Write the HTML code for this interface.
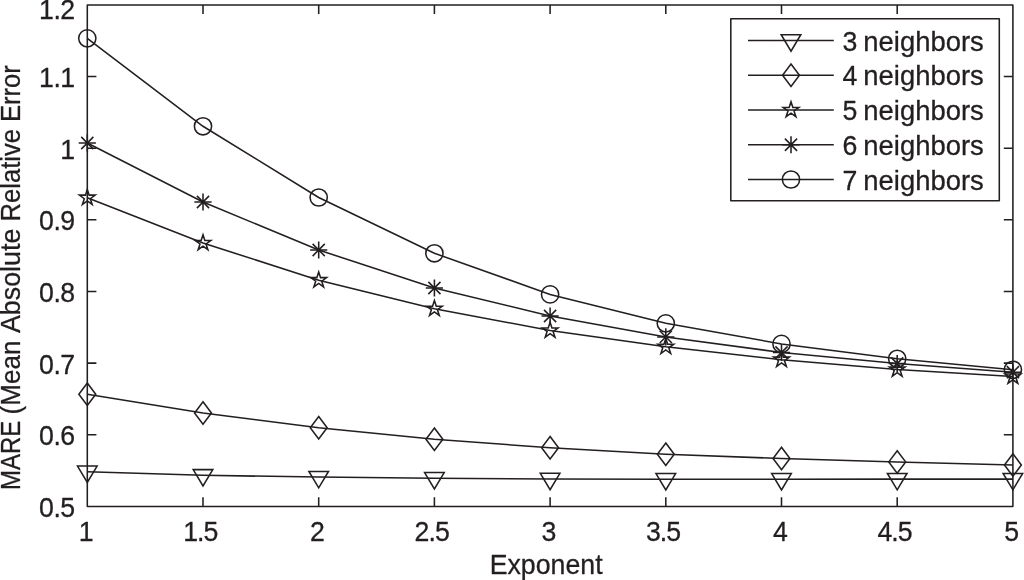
<!DOCTYPE html>
<html lang="en"><head><meta charset="utf-8"><title>MARE vs Exponent</title>
<style>html,body{margin:0;padding:0;background:#fff;overflow:hidden}svg{display:block}text{font-family:"Liberation Sans",sans-serif;font-size:27.8px;fill:#231f20;stroke:#231f20;stroke-width:0.3px;stroke-linejoin:round}</style></head><body>
<svg width="1024" height="580" viewBox="0 0 1024 580">
<rect width="1024" height="580" fill="#fff"/>
<g fill="none" stroke="#231f20" stroke-width="1.55" stroke-miterlimit="10">
<rect x="87.3" y="4.9" width="925.6" height="501.5" stroke-linejoin="round"/>
<path d="M203 506.4v-9.1M203 4.9v9.1M318.7 506.4v-9.1M318.7 4.9v9.1M434.4 506.4v-9.1M434.4 4.9v9.1M550.1 506.4v-9.1M550.1 4.9v9.1M665.8 506.4v-9.1M665.8 4.9v9.1M781.5 506.4v-9.1M781.5 4.9v9.1M897.2 506.4v-9.1M897.2 4.9v9.1M87.3 76.54h9.1M1012.9 76.54h-9.1M87.3 148.19h9.1M1012.9 148.19h-9.1M87.3 219.83h9.1M1012.9 219.83h-9.1M87.3 291.47h9.1M1012.9 291.47h-9.1M87.3 363.11h9.1M1012.9 363.11h-9.1M87.3 434.76h9.1M1012.9 434.76h-9.1"/>
<polyline points="87.3,471.75 203,475.3 318.7,477.1 434.4,478.25 550.1,479 665.8,479.25 781.5,479.25 897.2,479.1 1012.9,479.1"/>
<polyline points="87.3,394.25 203,413 318.7,427.75 434.4,439.25 550.1,447.75 665.8,454.25 781.5,458.5 897.2,461.9 1012.9,465"/>
<polyline points="87.3,197.7 203,243 318.7,280.2 434.4,308.75 550.1,330.5 665.8,346.8 781.5,359.7 897.2,369.5 1012.9,376.6"/>
<polyline points="87.3,143 203,202 318.7,250 434.4,288 550.1,316 665.8,336.9 781.5,352.5 897.2,363.5 1012.9,372.2"/>
<polyline points="87.3,38.3 203,126.25 318.7,197.5 434.4,253.25 550.1,294.4 665.8,323.3 781.5,343.9 897.2,358.75 1012.9,369.75"/>
<polygon points="77.5,466.05 97.1,466.05 87.3,482.45"/>
<polygon points="193.2,469.6 212.8,469.6 203,486"/>
<polygon points="308.9,471.4 328.5,471.4 318.7,487.8"/>
<polygon points="424.6,472.55 444.2,472.55 434.4,488.95"/>
<polygon points="540.3,473.3 559.9,473.3 550.1,489.7"/>
<polygon points="656,473.55 675.6,473.55 665.8,489.95"/>
<polygon points="771.7,473.55 791.3,473.55 781.5,489.95"/>
<polygon points="887.4,473.4 907,473.4 897.2,489.8"/>
<polygon points="1003.1,473.4 1022.7,473.4 1012.9,489.8"/>
<polygon points="87.3,383.05 95.75,394.25 87.3,405.45 78.85,394.25"/>
<polygon points="203,401.8 211.45,413 203,424.2 194.55,413"/>
<polygon points="318.7,416.55 327.15,427.75 318.7,438.95 310.25,427.75"/>
<polygon points="434.4,428.05 442.85,439.25 434.4,450.45 425.95,439.25"/>
<polygon points="550.1,436.55 558.55,447.75 550.1,458.95 541.65,447.75"/>
<polygon points="665.8,443.05 674.25,454.25 665.8,465.45 657.35,454.25"/>
<polygon points="781.5,447.3 789.95,458.5 781.5,469.7 773.05,458.5"/>
<polygon points="897.2,450.7 905.65,461.9 897.2,473.1 888.75,461.9"/>
<polygon points="1012.9,453.8 1021.35,465 1012.9,476.2 1004.45,465"/>
<polygon points="87.3,189.4 89.16,195.13 95.19,195.14 90.32,198.68 92.18,204.41 87.3,200.87 82.42,204.41 84.28,198.68 79.41,195.14 85.44,195.13"/>
<polygon points="203,234.7 204.86,240.43 210.89,240.44 206.02,243.98 207.88,249.71 203,246.17 198.12,249.71 199.98,243.98 195.11,240.44 201.14,240.43"/>
<polygon points="318.7,271.9 320.56,277.63 326.59,277.64 321.72,281.18 323.58,286.91 318.7,283.37 313.82,286.91 315.68,281.18 310.81,277.64 316.84,277.63"/>
<polygon points="434.4,300.45 436.26,306.18 442.29,306.19 437.42,309.73 439.28,315.46 434.4,311.92 429.52,315.46 431.38,309.73 426.51,306.19 432.54,306.18"/>
<polygon points="550.1,322.2 551.96,327.93 557.99,327.94 553.12,331.48 554.98,337.21 550.1,333.67 545.22,337.21 547.08,331.48 542.21,327.94 548.24,327.93"/>
<polygon points="665.8,338.5 667.66,344.23 673.69,344.24 668.82,347.78 670.68,353.51 665.8,349.97 660.92,353.51 662.78,347.78 657.91,344.24 663.94,344.23"/>
<polygon points="781.5,351.4 783.36,357.13 789.39,357.14 784.52,360.68 786.38,366.41 781.5,362.87 776.62,366.41 778.48,360.68 773.61,357.14 779.64,357.13"/>
<polygon points="897.2,361.2 899.06,366.93 905.09,366.94 900.22,370.48 902.08,376.21 897.2,372.67 892.32,376.21 894.18,370.48 889.31,366.94 895.34,366.93"/>
<polygon points="1012.9,368.3 1014.76,374.03 1020.79,374.04 1015.92,377.58 1017.78,383.31 1012.9,379.77 1008.02,383.31 1009.88,377.58 1005.01,374.04 1011.04,374.03"/>
<path d="M78.7 143H95.9M87.3 134.4V151.6M81.22 136.92L93.38 149.08M81.22 149.08L93.38 136.92"/>
<path d="M194.4 202H211.6M203 193.4V210.6M196.92 195.92L209.08 208.08M196.92 208.08L209.08 195.92"/>
<path d="M310.1 250H327.3M318.7 241.4V258.6M312.62 243.92L324.78 256.08M312.62 256.08L324.78 243.92"/>
<path d="M425.8 288H443M434.4 279.4V296.6M428.32 281.92L440.48 294.08M428.32 294.08L440.48 281.92"/>
<path d="M541.5 316H558.7M550.1 307.4V324.6M544.02 309.92L556.18 322.08M544.02 322.08L556.18 309.92"/>
<path d="M657.2 336.9H674.4M665.8 328.3V345.5M659.72 330.82L671.88 342.98M659.72 342.98L671.88 330.82"/>
<path d="M772.9 352.5H790.1M781.5 343.9V361.1M775.42 346.42L787.58 358.58M775.42 358.58L787.58 346.42"/>
<path d="M888.6 363.5H905.8M897.2 354.9V372.1M891.12 357.42L903.28 369.58M891.12 369.58L903.28 357.42"/>
<path d="M1004.3 372.2H1021.5M1012.9 363.6V380.8M1006.82 366.12L1018.98 378.28M1006.82 378.28L1018.98 366.12"/>
<circle cx="87.3" cy="38.3" r="8.6"/>
<circle cx="203" cy="126.25" r="8.6"/>
<circle cx="318.7" cy="197.5" r="8.6"/>
<circle cx="434.4" cy="253.25" r="8.6"/>
<circle cx="550.1" cy="294.4" r="8.6"/>
<circle cx="665.8" cy="323.3" r="8.6"/>
<circle cx="781.5" cy="343.9" r="8.6"/>
<circle cx="897.2" cy="358.75" r="8.6"/>
<circle cx="1012.9" cy="369.75" r="8.6"/>
</g>
<rect x="730.8" y="18.8" width="268.5" height="182" fill="#fff" stroke="#231f20" stroke-width="1.55" stroke-linejoin="round"/>
<g fill="none" stroke="#231f20" stroke-width="1.55" stroke-miterlimit="10">
<path d="M748 40.45H833.8"/>
<polygon points="781.2,34.75 800.8,34.75 791,51.15"/>
<path d="M748 75.2H833.8"/>
<polygon points="791,64 799.45,75.2 791,86.4 782.55,75.2"/>
<path d="M748 110H833.8"/>
<polygon points="791,101.7 792.86,107.43 798.89,107.44 794.02,110.98 795.88,116.71 791,113.17 786.12,116.71 787.98,110.98 783.11,107.44 789.14,107.43"/>
<path d="M748 144.75H833.8"/>
<path d="M782.4 144.75H799.6M791 136.15V153.35M784.92 138.67L797.08 150.83M784.92 150.83L797.08 138.67"/>
<path d="M748 179.5H833.8"/>
<circle cx="791" cy="179.5" r="8.6"/>
</g>
<text transform="translate(842.6 50.55) scale(0.96 1)">3</text>
<text transform="translate(863.3 50.55) scale(0.987 1)">neighbors</text>
<text transform="translate(842.6 85.3) scale(0.96 1)">4</text>
<text transform="translate(863.3 85.3) scale(0.987 1)">neighbors</text>
<text transform="translate(842.6 120.1) scale(0.96 1)">5</text>
<text transform="translate(863.3 120.1) scale(0.987 1)">neighbors</text>
<text transform="translate(842.6 154.85) scale(0.96 1)">6</text>
<text transform="translate(863.3 154.85) scale(0.987 1)">neighbors</text>
<text transform="translate(842.6 189.6) scale(0.96 1)">7</text>
<text transform="translate(863.3 189.6) scale(0.987 1)">neighbors</text>
<text transform="translate(74.7 18.9) scale(0.96 1)" text-anchor="end" letter-spacing="-0.5">1.2</text>
<text transform="translate(74.7 87.14) scale(0.96 1)" text-anchor="end" letter-spacing="-0.5">1.1</text>
<text transform="translate(74.7 158.79) scale(0.96 1)" text-anchor="end" letter-spacing="-0.5">1</text>
<text transform="translate(74.7 230.43) scale(0.96 1)" text-anchor="end" letter-spacing="-0.5">0.9</text>
<text transform="translate(74.7 302.07) scale(0.96 1)" text-anchor="end" letter-spacing="-0.5">0.8</text>
<text transform="translate(74.7 373.71) scale(0.96 1)" text-anchor="end" letter-spacing="-0.5">0.7</text>
<text transform="translate(74.7 445.36) scale(0.96 1)" text-anchor="end" letter-spacing="-0.5">0.6</text>
<text transform="translate(74.7 517) scale(0.96 1)" text-anchor="end" letter-spacing="-0.5">0.5</text>
<text transform="translate(86.1 540.8) scale(0.96 1)" text-anchor="middle">1</text>
<text transform="translate(183.2 540.8) scale(0.96 1)" letter-spacing="-1.0">1.5</text>
<text transform="translate(317.5 540.8) scale(0.96 1)" text-anchor="middle">2</text>
<text transform="translate(414.6 540.8) scale(0.96 1)" letter-spacing="-1.0">2.5</text>
<text transform="translate(548.9 540.8) scale(0.96 1)" text-anchor="middle">3</text>
<text transform="translate(646 540.8) scale(0.96 1)" letter-spacing="-1.0">3.5</text>
<text transform="translate(780.3 540.8) scale(0.96 1)" text-anchor="middle">4</text>
<text transform="translate(877.4 540.8) scale(0.96 1)" letter-spacing="-1.0">4.5</text>
<text transform="translate(1011.7 540.8) scale(0.96 1)" text-anchor="middle">5</text>
<text transform="translate(489.64 574.2) scale(0.9617 1)">Exponent</text>
<g transform="translate(20.3 0) rotate(-90)">
<text transform="translate(-490.04 0) scale(0.8625 1)">MARE</text>
<text transform="translate(-414.39 0) scale(0.9369 1)">(Mean</text>
<text transform="translate(-333.1 0) scale(0.9659 1)">Absolute</text>
<text transform="translate(-221.47 0) scale(0.9216 1)">Relative</text>
<text transform="translate(-122.07 0) scale(0.922 1)">Error</text>
</g>
</svg></body></html>
